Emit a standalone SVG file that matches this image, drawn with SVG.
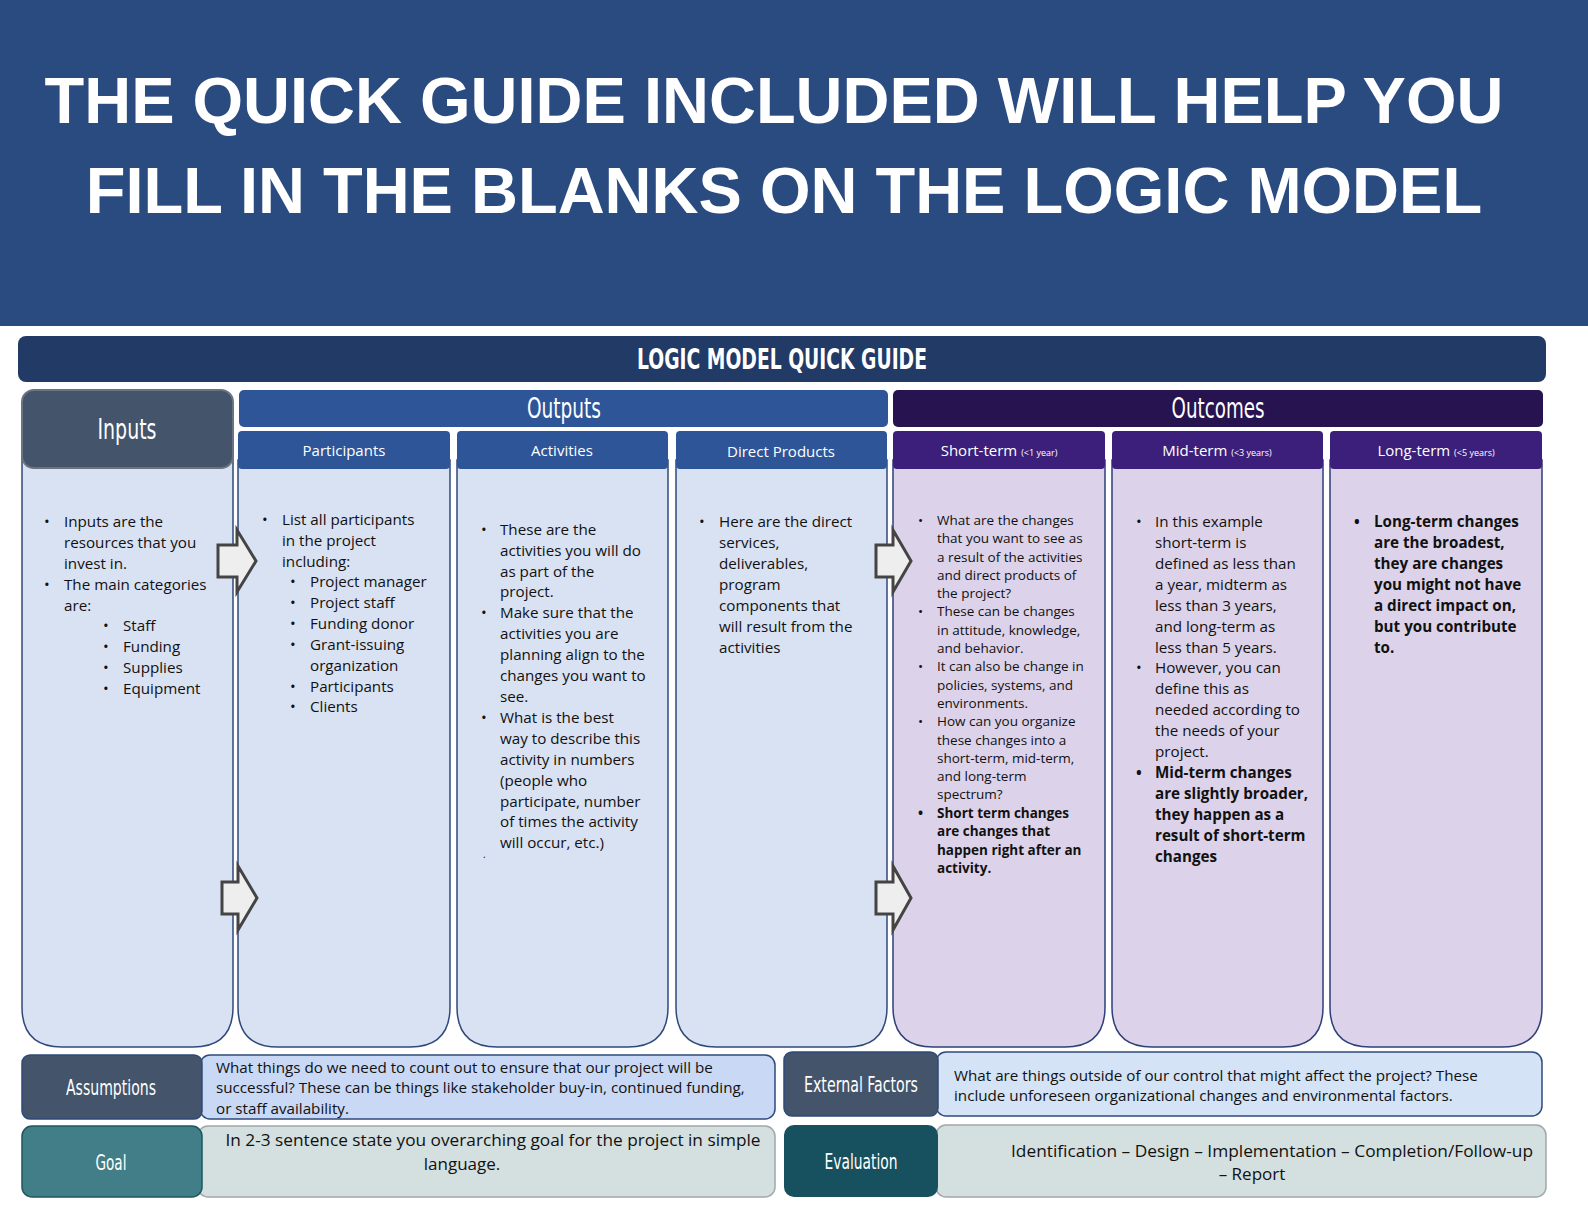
<svg xmlns="http://www.w3.org/2000/svg" width="1588" height="1227" viewBox="0 0 1588 1227">
<style>
.t{font-family:"Open Sans","Noto Sans",sans-serif;font-size:15.2px;fill:#111}
.s{font-family:"Open Sans","Noto Sans",sans-serif;font-size:13.5px;fill:#111}
.big{font-family:"Open Sans","Noto Sans",sans-serif;font-size:17px;fill:#111;text-anchor:middle}
.b{font-weight:bold}
.h{font-family:"DejaVu Sans Condensed","Liberation Sans",sans-serif;fill:#fff;text-anchor:middle}
.sh{font-family:"Open Sans","Noto Sans",sans-serif;fill:#fff;text-anchor:middle;font-size:15px}
.ob{fill:#d9e2f3;stroke:#2f4a7a;stroke-width:1.5}
.pb{fill:#dcd3ea;stroke:#2f3f7a;stroke-width:1.5}
.arr{fill:#eeeeee;stroke:#444;stroke-width:3}
</style>
<rect width="1588" height="1227" fill="#fff"/>
<g id="title">
<rect width="1588" height="326" fill="#294b80"/>
<text x="774" y="123" text-anchor="middle" font-family="Liberation Sans,sans-serif" font-weight="bold" font-size="65" fill="#fff">THE QUICK GUIDE INCLUDED WILL HELP YOU</text>
<text x="784" y="213" text-anchor="middle" font-family="Liberation Sans,sans-serif" font-weight="bold" font-size="65" fill="#fff">FILL IN THE BLANKS ON THE LOGIC MODEL</text>
</g>
<g id="banner">
<rect x="18" y="336" width="1528" height="46" rx="8" fill="#213a66"/>
<text x="782" y="369" class="h" font-weight="bold" font-size="28" textLength="290" lengthAdjust="spacingAndGlyphs">LOGIC MODEL QUICK GUIDE</text>
</g>
<g id="inputs">
<path class="ob" d="M22 455 H233 V1007 Q233 1047 193 1047 H62 Q22 1047 22 1007 Z"/>
<rect x="22" y="390" width="211" height="78" rx="12" fill="#44546a" stroke="#6b7280" stroke-width="2"/>
<text x="127" y="439" class="h" font-size="29" textLength="59" lengthAdjust="spacingAndGlyphs">Inputs</text>
<g class="t"><text x="44" y="527">•</text><text x="64" y="527">Inputs are the</text><text x="64" y="548">resources that you</text><text x="64" y="569">invest in.</text><text x="44" y="590">•</text><text x="64" y="590">The main categories</text><text x="64" y="611">are:</text>
<text x="103" y="631">•</text><text x="123" y="631">Staff</text><text x="103" y="652">•</text><text x="123" y="652">Funding</text><text x="103" y="673">•</text><text x="123" y="673">Supplies</text><text x="103" y="694">•</text><text x="123" y="694">Equipment</text></g>
</g>
<g id="outputs">
<rect x="239" y="390" width="649" height="37" rx="5" fill="#2e5597"/>
<text x="564" y="418" class="h" font-size="28" textLength="74" lengthAdjust="spacingAndGlyphs">Outputs</text>
</g>
<g id="outcomes">
<rect x="893" y="390" width="650" height="37" rx="5" fill="#26134f"/>
<text x="1218" y="418" class="h" font-size="28" textLength="93" lengthAdjust="spacingAndGlyphs">Outcomes</text>
</g>
<g id="participants">
<path class="ob" d="M238 460 H450 V1007 Q450 1047 410 1047 H278 Q238 1047 238 1007 Z"/>
<rect x="238" y="431" width="212" height="38" rx="4" fill="#2e5597"/>
<text x="344" y="456" class="sh">Participants</text>
<g class="t"><text x="262" y="525">•</text><text x="282" y="525">List all participants</text><text x="282" y="546">in the project</text><text x="282" y="567">including:</text>
<text x="290" y="587">•</text><text x="310" y="587">Project manager</text><text x="290" y="608">•</text><text x="310" y="608">Project staff</text><text x="290" y="629">•</text><text x="310" y="629">Funding donor</text><text x="290" y="650">•</text><text x="310" y="650">Grant-issuing</text><text x="310" y="671">organization</text><text x="290" y="692">•</text><text x="310" y="692">Participants</text><text x="290" y="712">•</text><text x="310" y="712">Clients</text></g>
</g>
<g id="activities">
<path class="ob" d="M457 460 H668 V1007 Q668 1047 628 1047 H497 Q457 1047 457 1007 Z"/>
<rect x="457" y="431" width="211" height="38" rx="4" fill="#2e5597"/>
<text x="562" y="456" class="sh">Activities</text>
<g class="t"><text x="481" y="535">•</text><text x="500" y="535">These are the</text><text x="500" y="556">activities you will do</text><text x="500" y="577">as part of the</text><text x="500" y="597">project.</text>
<text x="481" y="618">•</text><text x="500" y="618">Make sure that the</text><text x="500" y="639">activities you are</text><text x="500" y="660">planning align to the</text><text x="500" y="681">changes you want to</text><text x="500" y="702">see.</text>
<text x="481" y="723">•</text><text x="500" y="723">What is the best</text><text x="500" y="744">way to describe this</text><text x="500" y="765">activity in numbers</text><text x="500" y="786">(people who</text><text x="500" y="807">participate, number</text><text x="500" y="827">of times the activity</text><text x="500" y="848">will occur, etc.)</text><text x="483" y="858" style="font-size:10px">.</text></g>
</g>
<g id="direct-products">
<path class="ob" d="M676 460 H887 V1007 Q887 1047 847 1047 H716 Q676 1047 676 1007 Z"/>
<rect x="676" y="431" width="211" height="38" rx="4" fill="#2e5597"/>
<text x="781" y="457" class="sh">Direct Products</text>
<g class="t"><text x="699" y="527">•</text><text x="719" y="527">Here are the direct</text><text x="719" y="548">services,</text><text x="719" y="569">deliverables,</text><text x="719" y="590">program</text><text x="719" y="611">components that</text><text x="719" y="632">will result from the</text><text x="719" y="653">activities</text></g>
</g>
<g id="short-term">
<path class="pb" d="M893 460 H1105 V1007 Q1105 1047 1065 1047 H933 Q893 1047 893 1007 Z"/>
<rect x="893" y="431" width="212" height="38" rx="4" fill="#3b1f7a"/>
<text x="999" y="456" class="sh">Short-term <tspan font-size="9">(&lt;1 year)</tspan></text>
<g class="s"><text x="918" y="525">•</text><text x="937" y="525">What are the changes</text><text x="937" y="543">that you want to see as</text><text x="937" y="562">a result of the activities</text><text x="937" y="580">and direct products of</text><text x="937" y="598">the project?</text>
<text x="918" y="616">•</text><text x="937" y="616">These can be changes</text><text x="937" y="635">in attitude, knowledge,</text><text x="937" y="653">and behavior.</text>
<text x="918" y="671">•</text><text x="937" y="671">It can also be change in</text><text x="937" y="690">policies, systems, and</text><text x="937" y="708">environments.</text>
<text x="918" y="726">•</text><text x="937" y="726">How can you organize</text><text x="937" y="745">these changes into a</text><text x="937" y="763">short-term, mid-term,</text><text x="937" y="781">and long-term</text><text x="937" y="799">spectrum?</text>
<g class="b"><text x="918" y="818">•</text><text x="937" y="818">Short term changes</text><text x="937" y="836">are changes that</text><text x="937" y="855">happen right after an</text><text x="937" y="873">activity.</text></g></g>
</g>
<g id="mid-term">
<path class="pb" d="M1112 460 H1323 V1007 Q1323 1047 1283 1047 H1152 Q1112 1047 1112 1007 Z"/>
<rect x="1112" y="431" width="211" height="38" rx="4" fill="#3b1f7a"/>
<text x="1217" y="456" class="sh">Mid-term <tspan font-size="9">(&lt;3 years)</tspan></text>
<g class="t"><text x="1136" y="527">•</text><text x="1155" y="527">In this example</text><text x="1155" y="548">short-term is</text><text x="1155" y="569">defined as less than</text><text x="1155" y="590">a year, midterm as</text><text x="1155" y="611">less than 3 years,</text><text x="1155" y="632">and long-term as</text><text x="1155" y="653">less than 5 years.</text>
<text x="1136" y="673">•</text><text x="1155" y="673">However, you can</text><text x="1155" y="694">define this as</text><text x="1155" y="715">needed according to</text><text x="1155" y="736">the needs of your</text><text x="1155" y="757">project.</text>
<g class="b"><text x="1136" y="778">•</text><text x="1155" y="778">Mid-term changes</text><text x="1155" y="799">are slightly broader,</text><text x="1155" y="820">they happen as a</text><text x="1155" y="841">result of short-term</text><text x="1155" y="862">changes</text></g></g>
</g>
<g id="long-term">
<path class="pb" d="M1330 460 H1542 V1007 Q1542 1047 1502 1047 H1370 Q1330 1047 1330 1007 Z"/>
<rect x="1330" y="431" width="212" height="38" rx="4" fill="#3b1f7a"/>
<text x="1436" y="456" class="sh">Long-term <tspan font-size="9">(&lt;5 years)</tspan></text>
<g class="t b"><text x="1354" y="527">•</text><text x="1374" y="527">Long-term changes</text><text x="1374" y="548">are the broadest,</text><text x="1374" y="569">they are changes</text><text x="1374" y="590">you might not have</text><text x="1374" y="611">a direct impact on,</text><text x="1374" y="632">but you contribute</text><text x="1374" y="653">to.</text></g>
</g>
<g id="connectors">
<path class="arr" d="M218 545 H237 V530 L256 561 L237 592 V577 H218 Z"/>
<path class="arr" d="M222 882 H238 V866 L257 898 L238 930 V914 H222 Z"/>
<path class="arr" d="M876 545 H893 V530 L911 561 L893 592 V577 H876 Z"/>
<path class="arr" d="M876 882 H893 V866 L911 898 L893 930 V914 H876 Z"/>
</g>
<g id="assumptions">
<rect x="200" y="1055" width="575" height="64" rx="10" fill="#c9d9f5" stroke="#2f4a7a" stroke-width="1.5"/>
<rect x="22" y="1055" width="180" height="64" rx="8" fill="#44546a" stroke="#2f4a7a" stroke-width="1.5"/>
<text x="111" y="1095" class="h" font-size="22" textLength="90" lengthAdjust="spacingAndGlyphs">Assumptions</text>
<g class="t"><text x="216" y="1073">What things do we need to count out to ensure that our project will be</text><text x="216" y="1093">successful? These can be things like stakeholder buy-in, continued funding,</text><text x="216" y="1114">or staff availability.</text></g>
</g>
<g id="external-factors">
<rect x="936" y="1052" width="606" height="64" rx="10" fill="#d4e3f5" stroke="#2f4a7a" stroke-width="1.5"/>
<rect x="784" y="1052" width="154" height="64" rx="8" fill="#44546a" stroke="#2f4a7a" stroke-width="1.5"/>
<text x="861" y="1092" class="h" font-size="22" textLength="114" lengthAdjust="spacingAndGlyphs">External Factors</text>
<g class="t"><text x="954" y="1081">What are things outside of our control that might affect the project? These</text><text x="954" y="1101">include unforeseen organizational changes and environmental factors.</text></g>
</g>
<g id="goal">
<rect x="198" y="1126" width="577" height="71" rx="10" fill="#d4dfe0" stroke="#a0a8aa" stroke-width="1.5"/>
<rect x="22" y="1126" width="180" height="71" rx="10" fill="#417e87" stroke="#1f5560" stroke-width="1.5"/>
<text x="111" y="1170" class="h" font-size="22" textLength="31" lengthAdjust="spacingAndGlyphs">Goal</text>
<g class="big"><text x="493" y="1146" textLength="535" lengthAdjust="spacingAndGlyphs">In 2-3 sentence state you overarching goal for the project in simple</text><text x="462" y="1170">language.</text></g>
</g>
<g id="evaluation">
<rect x="936" y="1125" width="610" height="72" rx="10" fill="#d4dfe0" stroke="#a0a8aa" stroke-width="1.5"/>
<rect x="784" y="1125" width="154" height="72" rx="10" fill="#17505e"/>
<text x="861" y="1169" class="h" font-size="22" textLength="73" lengthAdjust="spacingAndGlyphs">Evaluation</text>
<g class="big"><text x="1272" y="1157" textLength="522" lengthAdjust="spacingAndGlyphs">Identification – Design – Implementation – Completion/Follow-up</text><text x="1252" y="1180">– Report</text></g>
</g>
</svg>
